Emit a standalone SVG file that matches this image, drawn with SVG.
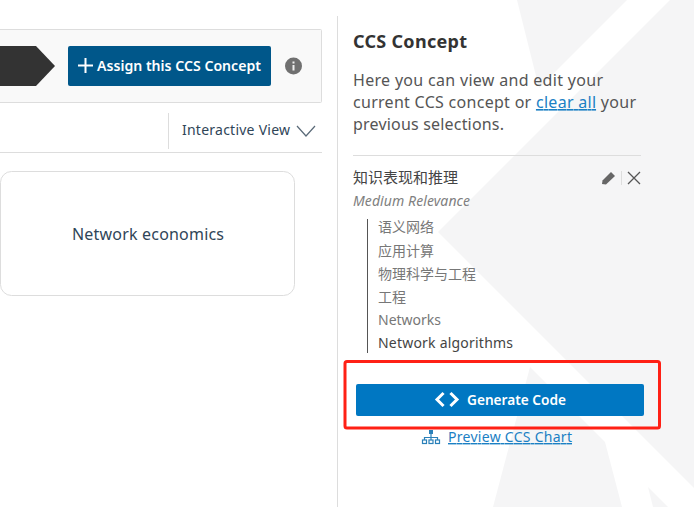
<svg xmlns="http://www.w3.org/2000/svg" width="694" height="507" viewBox="0 0 694 507">
<style>
text{font-family:"Noto Sans","Noto Sans CJK SC",sans-serif}
.cjk{font-family:"Noto Sans CJK SC","Noto Sans",sans-serif}
.bg{fill:#f5f5f6}
.rule{stroke:#dddddd;stroke-width:1;fill:none}
.body{font-size:16px;fill:#555555}
.crumb{font-size:14px;fill:#777777}
.link{fill:#1b80c4;text-decoration:underline}
.btn{font-weight:600;fill:#ffffff}
.ico{fill:none;stroke-linecap:square;stroke-linejoin:miter}
</style>
<rect width="694" height="507" fill="#ffffff"/>
<g id="background">
<polygon class="bg" points="517,0 627,0 539,88"/>
<polygon class="bg" points="670,0 694,0 694,488 438,232"/>
<polygon class="bg" points="530,367 605,442 622,507 493,507"/>
<polygon class="bg" points="648,487 668,507 653,507"/>
</g>
<g id="toolbar">
<rect x="-2" y="29.500" width="323.500" height="73" fill="#f9f9f9" stroke="#dddddd" rx="1"/>
<polygon points="0,46 36,46 55,66 36,86 0,86" fill="#333333"/>
</g>
<g id="assign-button">
<rect x="68" y="46" width="203" height="40" rx="2" fill="#00578a"/>
<path d="M85.500,58V73M78,65.500H93" stroke="#ffffff" stroke-width="2" fill="none"/>
<text class="btn" x="97" y="71" font-size="14.500" textLength="164" lengthAdjust="spacingAndGlyphs">Assign this CCS Concept</text>
</g>
<g id="info-icon">
<circle cx="293.500" cy="66" r="8.500" fill="#707070"/>
<rect x="292.500" y="65" width="2" height="5.500" fill="#eeeeee"/>
<rect x="292.500" y="61.500" width="2" height="2" fill="#eeeeee"/>
</g>
<g id="view-selector">
<path class="rule" d="M168.500,113V149M0,152.500H322"/>
<text x="182" y="135" font-size="14" fill="#2f4558" textLength="108">Interactive View</text>
<path d="M297,126L306,136L315,126" fill="none" stroke="#5a6a78" stroke-width="1.200"/>
</g>
<g id="network-economics">
<rect x="0.500" y="171.500" width="294" height="124" rx="11" fill="#ffffff" stroke="#dddddd"/>
<text x="72" y="239.500" font-size="16" fill="#2f4558" textLength="152">Network economics</text>
</g>
<g id="panel-divider"><path class="rule" d="M337.500,16V507"/></g>
<g id="ccs-panel">
<text x="353" y="48" font-size="18" font-weight="700" fill="#333333" textLength="114">CCS Concept</text>
<text class="body" x="353" y="86" textLength="250">Here you can view and edit your</text>
<text class="body" x="353" y="108" textLength="283">current CCS concept or <tspan class="link">clear all</tspan> your</text>
<text class="body" x="353" y="130" textLength="151">previous selections.</text>
<path class="rule" d="M353,155.500H641"/>
</g>
<g id="selected-concept">
<text class="cjk" x="353" y="183" font-size="15" fill="#444444">知识表现和推理</text>
<text x="353" y="206" font-size="14" font-style="italic" fill="#808080" textLength="117">Medium Relevance</text>
<path d="M602,184L602.500,180.500L611,172L615,176L606,184.500Z" fill="#666666"/>
<path class="rule" d="M621.500,171V185"/>
<path d="M628,172L640,184M640,172L628,184" stroke="#555555" stroke-width="1.300" fill="none"/>
</g>
<g id="concept-path">
<path d="M367.500,219V353" stroke="#555555" stroke-width="1" fill="none"/>
<text class="crumb cjk" x="378" y="232">语义网络</text>
<text class="crumb cjk" x="378" y="256">应用计算</text>
<text class="crumb cjk" x="378" y="279">物理科学与工程</text>
<text class="crumb cjk" x="378" y="302">工程</text>
<text class="crumb" x="378" y="325" textLength="63">Networks</text>
<text x="378" y="348" font-size="14" fill="#444444" textLength="135">Network algorithms</text>
</g>
<g id="generate-code">
<rect x="356" y="384" width="288" height="32" rx="2" fill="#0077c2"/>
<path class="ico" d="M442.500,394L437,399.500L442.500,405M451.500,394L457,399.500L451.500,405" stroke="#ffffff" stroke-width="3"/>
<text class="btn" x="467" y="405" font-size="14" textLength="99" lengthAdjust="spacingAndGlyphs">Generate Code</text>
</g>
<g id="highlight"><rect x="345" y="361.500" width="314.500" height="66.500" rx="2" fill="none" stroke="#ff2015" stroke-width="3"/></g>
<g id="preview-chart">
<g fill="none" stroke="#2a80b9" stroke-width="1.200">
<path d="M431,434V437M424.500,440V437.500H437.500V440M431,437.500V440"/>
<rect x="422.500" y="440" width="4" height="3.500"/><rect x="429" y="440" width="4" height="3.500"/><rect x="435.500" y="440" width="4" height="3.500"/>
</g>
<rect x="429" y="430" width="4" height="4" fill="#2a80b9"/>
<text class="link" x="448" y="442" font-size="14" textLength="124">Preview CCS Chart</text>
</g>
</svg>
